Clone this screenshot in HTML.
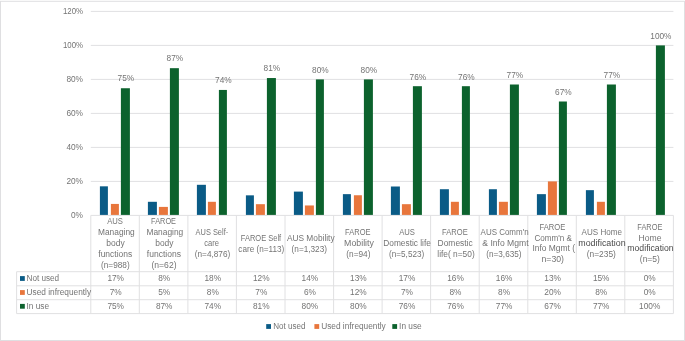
<!DOCTYPE html>
<html><head><meta charset="utf-8"><title>Chart</title>
<style>
html,body{margin:0;padding:0;background:#fff;}
body{width:685px;height:341px;overflow:hidden;}
svg{display:block;}
text{font-family:"Liberation Sans","DejaVu Sans",sans-serif;font-size:8.3px;fill:#747474;}
</style></head><body>
<svg width="685" height="341" viewBox="0 0 685 341">
<rect x="0" y="0" width="685" height="341" fill="#ffffff"/>
<rect x="0.5" y="1.3" width="684" height="339.2" fill="none" stroke="#dfdfe1" stroke-width="1"/>

<line x1="90.8" y1="181.4" x2="673.4" y2="181.4" stroke="#e0e0e2" stroke-width="1"/>
<line x1="90.8" y1="147.4" x2="673.4" y2="147.4" stroke="#e0e0e2" stroke-width="1"/>
<line x1="90.8" y1="113.4" x2="673.4" y2="113.4" stroke="#e0e0e2" stroke-width="1"/>
<line x1="90.8" y1="79.4" x2="673.4" y2="79.4" stroke="#e0e0e2" stroke-width="1"/>
<line x1="90.8" y1="45.4" x2="673.4" y2="45.4" stroke="#e0e0e2" stroke-width="1"/>
<line x1="90.8" y1="11.4" x2="673.4" y2="11.4" stroke="#e0e0e2" stroke-width="1"/>
<text x="83" y="218.4" text-anchor="end">0%</text>
<text x="83" y="184.4" text-anchor="end">20%</text>
<text x="83" y="150.4" text-anchor="end">40%</text>
<text x="83" y="116.4" text-anchor="end">60%</text>
<text x="83" y="82.4" text-anchor="end">80%</text>
<text x="62.9" y="48.4" textLength="20.1" lengthAdjust="spacingAndGlyphs">100%</text>
<text x="62.9" y="14.4" textLength="20.1" lengthAdjust="spacingAndGlyphs">120%</text>
<rect x="99.9" y="186.33" width="8.0" height="28.67" fill="#0a5b86"/>
<rect x="110.9" y="203.93" width="8.0" height="11.07" fill="#e8763c"/>
<rect x="120.9" y="88.24" width="9.0" height="126.76" fill="#0c622d"/>
<text x="125.9" y="81.2" text-anchor="middle">75%</text>
<rect x="147.9" y="201.80" width="9.0" height="13.20" fill="#0a5b86"/>
<rect x="158.9" y="206.90" width="9.0" height="8.10" fill="#e8763c"/>
<rect x="169.9" y="68.18" width="9.0" height="146.82" fill="#0c622d"/>
<text x="174.9" y="60.8" text-anchor="middle">87%</text>
<rect x="196.9" y="184.80" width="9.0" height="30.20" fill="#0a5b86"/>
<rect x="207.9" y="201.80" width="8.0" height="13.20" fill="#e8763c"/>
<rect x="218.9" y="89.94" width="8.0" height="125.06" fill="#0c622d"/>
<text x="223.4" y="82.9" text-anchor="middle">74%</text>
<rect x="245.9" y="195.34" width="8.0" height="19.66" fill="#0a5b86"/>
<rect x="255.9" y="204.18" width="9.0" height="10.82" fill="#e8763c"/>
<rect x="266.9" y="78.04" width="9.0" height="136.96" fill="#0c622d"/>
<text x="271.9" y="71.0" text-anchor="middle">81%</text>
<rect x="293.9" y="191.60" width="9.0" height="23.40" fill="#0a5b86"/>
<rect x="304.9" y="205.46" width="9.0" height="9.54" fill="#e8763c"/>
<rect x="315.9" y="79.40" width="8.0" height="135.60" fill="#0c622d"/>
<text x="320.4" y="72.7" text-anchor="middle">80%</text>
<rect x="342.9" y="194.15" width="8.0" height="20.85" fill="#0a5b86"/>
<rect x="353.9" y="195.25" width="8.0" height="19.75" fill="#e8763c"/>
<rect x="363.9" y="79.40" width="9.0" height="135.60" fill="#0c622d"/>
<text x="368.9" y="72.7" text-anchor="middle">80%</text>
<rect x="390.9" y="186.50" width="9.0" height="28.50" fill="#0a5b86"/>
<rect x="401.9" y="204.18" width="9.0" height="10.82" fill="#e8763c"/>
<rect x="412.9" y="86.20" width="9.0" height="128.80" fill="#0c622d"/>
<text x="417.9" y="79.5" text-anchor="middle">76%</text>
<rect x="439.9" y="189.22" width="9.0" height="25.78" fill="#0a5b86"/>
<rect x="450.9" y="201.80" width="8.0" height="13.20" fill="#e8763c"/>
<rect x="461.9" y="86.20" width="8.0" height="128.80" fill="#0c622d"/>
<text x="466.4" y="79.5" text-anchor="middle">76%</text>
<rect x="488.9" y="189.22" width="8.0" height="25.78" fill="#0a5b86"/>
<rect x="498.9" y="201.80" width="9.0" height="13.20" fill="#e8763c"/>
<rect x="509.9" y="84.50" width="9.0" height="130.50" fill="#0c622d"/>
<text x="514.9" y="77.8" text-anchor="middle">77%</text>
<rect x="536.9" y="194.15" width="9.0" height="20.85" fill="#0a5b86"/>
<rect x="547.9" y="181.40" width="9.0" height="33.60" fill="#e8763c"/>
<rect x="558.9" y="101.50" width="8.0" height="113.50" fill="#0c622d"/>
<text x="563.4" y="94.8" text-anchor="middle">67%</text>
<rect x="585.9" y="190.16" width="8.0" height="24.84" fill="#0a5b86"/>
<rect x="596.9" y="201.80" width="8.0" height="13.20" fill="#e8763c"/>
<rect x="606.9" y="84.50" width="9.0" height="130.50" fill="#0c622d"/>
<text x="611.9" y="77.8" text-anchor="middle">77%</text>
<rect x="655.9" y="45.40" width="9.0" height="169.60" fill="#0c622d"/>
<text x="660.9" y="38.7" text-anchor="middle">100%</text>
<line x1="90.8" y1="215.4" x2="673.4" y2="215.4" stroke="#e0e0e2" stroke-width="1"/>
<line x1="16.6" y1="271.7" x2="673.4" y2="271.7" stroke="#e0e0e2" stroke-width="1"/>
<line x1="16.6" y1="285.8" x2="673.4" y2="285.8" stroke="#e0e0e2" stroke-width="1"/>
<line x1="16.6" y1="299.7" x2="673.4" y2="299.7" stroke="#e0e0e2" stroke-width="1"/>
<line x1="16.6" y1="313.6" x2="673.4" y2="313.6" stroke="#e0e0e2" stroke-width="1"/>
<line x1="16.6" y1="271.7" x2="16.6" y2="313.6" stroke="#e0e0e2" stroke-width="1"/>
<line x1="90.8" y1="215.4" x2="90.8" y2="313.6" stroke="#e0e0e2" stroke-width="1"/>
<line x1="139.3" y1="215.4" x2="139.3" y2="313.6" stroke="#e0e0e2" stroke-width="1"/>
<line x1="187.9" y1="215.4" x2="187.9" y2="313.6" stroke="#e0e0e2" stroke-width="1"/>
<line x1="236.4" y1="215.4" x2="236.4" y2="313.6" stroke="#e0e0e2" stroke-width="1"/>
<line x1="285.0" y1="215.4" x2="285.0" y2="313.6" stroke="#e0e0e2" stroke-width="1"/>
<line x1="333.6" y1="215.4" x2="333.6" y2="313.6" stroke="#e0e0e2" stroke-width="1"/>
<line x1="382.1" y1="215.4" x2="382.1" y2="313.6" stroke="#e0e0e2" stroke-width="1"/>
<line x1="430.6" y1="215.4" x2="430.6" y2="313.6" stroke="#e0e0e2" stroke-width="1"/>
<line x1="479.2" y1="215.4" x2="479.2" y2="313.6" stroke="#e0e0e2" stroke-width="1"/>
<line x1="527.8" y1="215.4" x2="527.8" y2="313.6" stroke="#e0e0e2" stroke-width="1"/>
<line x1="576.3" y1="215.4" x2="576.3" y2="313.6" stroke="#e0e0e2" stroke-width="1"/>
<line x1="624.8" y1="215.4" x2="624.8" y2="313.6" stroke="#e0e0e2" stroke-width="1"/>
<line x1="673.4" y1="215.4" x2="673.4" y2="313.6" stroke="#e0e0e2" stroke-width="1"/>
<text x="107.2" y="224.0" textLength="15.8" lengthAdjust="spacingAndGlyphs">AUS</text>
<text x="98.0" y="235.2" textLength="36.7" lengthAdjust="spacingAndGlyphs">Managing</text>
<text x="106.3" y="246.0" textLength="18.4" lengthAdjust="spacingAndGlyphs">body</text>
<text x="98.3" y="256.7" textLength="33.9" lengthAdjust="spacingAndGlyphs">functions</text>
<text x="101.0" y="268.3" textLength="28.7" lengthAdjust="spacingAndGlyphs">(n=988)</text>
<text x="151.1" y="224.0" textLength="24.9" lengthAdjust="spacingAndGlyphs">FAROE</text>
<text x="146.5" y="235.2" textLength="36.7" lengthAdjust="spacingAndGlyphs">Managing</text>
<text x="155.2" y="246.0" textLength="18.3" lengthAdjust="spacingAndGlyphs">body</text>
<text x="146.8" y="256.7" textLength="34.2" lengthAdjust="spacingAndGlyphs">functions</text>
<text x="151.5" y="268.3" textLength="25.0" lengthAdjust="spacingAndGlyphs">(n=62)</text>
<text x="195.6" y="235.2" textLength="32.6" lengthAdjust="spacingAndGlyphs">AUS Self-</text>
<text x="204.3" y="246.0" textLength="14.7" lengthAdjust="spacingAndGlyphs">care</text>
<text x="194.8" y="256.7" textLength="35.4" lengthAdjust="spacingAndGlyphs">(n=4,876)</text>
<text x="240.8" y="240.6" textLength="40.4" lengthAdjust="spacingAndGlyphs">FAROE Self</text>
<text x="238.3" y="252.1" textLength="45.9" lengthAdjust="spacingAndGlyphs">care (n=113)</text>
<text x="286.9" y="240.6" textLength="47.7" lengthAdjust="spacingAndGlyphs">AUS Mobility</text>
<text x="291.6" y="252.1" textLength="35.4" lengthAdjust="spacingAndGlyphs">(n=1,323)</text>
<text x="345.1" y="235.2" textLength="25.4" lengthAdjust="spacingAndGlyphs">FAROE</text>
<text x="344.1" y="246.0" textLength="29.8" lengthAdjust="spacingAndGlyphs">Mobility</text>
<text x="346.3" y="256.7" textLength="24.2" lengthAdjust="spacingAndGlyphs">(n=94)</text>
<text x="399.2" y="235.2" textLength="15.8" lengthAdjust="spacingAndGlyphs">AUS</text>
<text x="383.3" y="246.0" textLength="47.6" lengthAdjust="spacingAndGlyphs">Domestic life</text>
<text x="389.1" y="256.7" textLength="35.1" lengthAdjust="spacingAndGlyphs">(n=5,523)</text>
<text x="442.1" y="235.2" textLength="25.6" lengthAdjust="spacingAndGlyphs">FAROE</text>
<text x="437.6" y="246.0" textLength="35.1" lengthAdjust="spacingAndGlyphs">Domestic</text>
<text x="437.3" y="256.7" textLength="37.4" lengthAdjust="spacingAndGlyphs">life( n=50)</text>
<text x="480.6" y="235.2" textLength="48.0" lengthAdjust="spacingAndGlyphs">AUS Comm'n</text>
<text x="482.3" y="246.0" textLength="46.3" lengthAdjust="spacingAndGlyphs">&amp; Info Mgmt</text>
<text x="486.3" y="256.7" textLength="35.2" lengthAdjust="spacingAndGlyphs">(n=3,635)</text>
<text x="539.5" y="229.8" textLength="25.9" lengthAdjust="spacingAndGlyphs">FAROE</text>
<text x="534.5" y="240.6" textLength="37.5" lengthAdjust="spacingAndGlyphs">Comm'n &amp;</text>
<text x="532.4" y="251.3" textLength="42.7" lengthAdjust="spacingAndGlyphs">Info Mgmt (</text>
<text x="541.5" y="262.1" textLength="22.5" lengthAdjust="spacingAndGlyphs">n=30)</text>
<text x="581.6" y="235.2" textLength="40.3" lengthAdjust="spacingAndGlyphs">AUS Home</text>
<text x="578.3" y="246.0" textLength="47.3" lengthAdjust="spacingAndGlyphs" style="fill:#4a4a4a">modification</text>
<text x="586.7" y="256.7" textLength="29.2" lengthAdjust="spacingAndGlyphs">(n=235)</text>
<text x="637.3" y="229.8" textLength="25.1" lengthAdjust="spacingAndGlyphs">FAROE</text>
<text x="638.5" y="240.6" textLength="23.0" lengthAdjust="spacingAndGlyphs">Home</text>
<text x="627.3" y="251.3" textLength="46.4" lengthAdjust="spacingAndGlyphs" style="fill:#4a4a4a">modification</text>
<text x="639.8" y="262.1" textLength="20.1" lengthAdjust="spacingAndGlyphs">(n=5)</text>
<rect x="20.0" y="276.1" width="4.8" height="4.8" fill="#0a5b86"/>
<text x="26.5" y="280.9" textLength="32.6" lengthAdjust="spacingAndGlyphs">Not used</text>
<text x="115.7" y="280.9" text-anchor="middle">17%</text>
<text x="164.2" y="280.9" text-anchor="middle">8%</text>
<text x="212.8" y="280.9" text-anchor="middle">18%</text>
<text x="261.3" y="280.9" text-anchor="middle">12%</text>
<text x="309.9" y="280.9" text-anchor="middle">14%</text>
<text x="358.4" y="280.9" text-anchor="middle">13%</text>
<text x="407.0" y="280.9" text-anchor="middle">17%</text>
<text x="455.5" y="280.9" text-anchor="middle">16%</text>
<text x="504.1" y="280.9" text-anchor="middle">16%</text>
<text x="552.6" y="280.9" text-anchor="middle">13%</text>
<text x="601.2" y="280.9" text-anchor="middle">15%</text>
<text x="649.7" y="280.9" text-anchor="middle">0%</text>
<rect x="20.0" y="290.1" width="4.8" height="4.8" fill="#e8763c"/>
<text x="26.5" y="294.9">Used infrequently</text>
<text x="115.7" y="294.9" text-anchor="middle">7%</text>
<text x="164.2" y="294.9" text-anchor="middle">5%</text>
<text x="212.8" y="294.9" text-anchor="middle">8%</text>
<text x="261.3" y="294.9" text-anchor="middle">7%</text>
<text x="309.9" y="294.9" text-anchor="middle">6%</text>
<text x="358.4" y="294.9" text-anchor="middle">12%</text>
<text x="407.0" y="294.9" text-anchor="middle">7%</text>
<text x="455.5" y="294.9" text-anchor="middle">8%</text>
<text x="504.1" y="294.9" text-anchor="middle">8%</text>
<text x="552.6" y="294.9" text-anchor="middle">20%</text>
<text x="601.2" y="294.9" text-anchor="middle">8%</text>
<text x="649.7" y="294.9" text-anchor="middle">0%</text>
<rect x="20.0" y="303.9" width="4.8" height="4.8" fill="#0c622d"/>
<text x="26.5" y="308.8">In use</text>
<text x="115.7" y="308.8" text-anchor="middle">75%</text>
<text x="164.2" y="308.8" text-anchor="middle">87%</text>
<text x="212.8" y="308.8" text-anchor="middle">74%</text>
<text x="261.3" y="308.8" text-anchor="middle">81%</text>
<text x="309.9" y="308.8" text-anchor="middle">80%</text>
<text x="358.4" y="308.8" text-anchor="middle">80%</text>
<text x="407.0" y="308.8" text-anchor="middle">76%</text>
<text x="455.5" y="308.8" text-anchor="middle">76%</text>
<text x="504.1" y="308.8" text-anchor="middle">77%</text>
<text x="552.6" y="308.8" text-anchor="middle">67%</text>
<text x="601.2" y="308.8" text-anchor="middle">77%</text>
<text x="649.7" y="308.8" text-anchor="middle">100%</text>
<rect x="266.2" y="324.1" width="4.8" height="4.8" fill="#0a5b86"/>
<text x="273.3" y="328.7" textLength="32.2" lengthAdjust="spacingAndGlyphs">Not used</text>
<rect x="314.4" y="324.1" width="4.8" height="4.8" fill="#e8763c"/>
<text x="321.2" y="328.7">Used infrequently</text>
<rect x="392.3" y="324.1" width="4.8" height="4.8" fill="#0c622d"/>
<text x="399.1" y="328.7">In use</text>
</svg></body></html>
